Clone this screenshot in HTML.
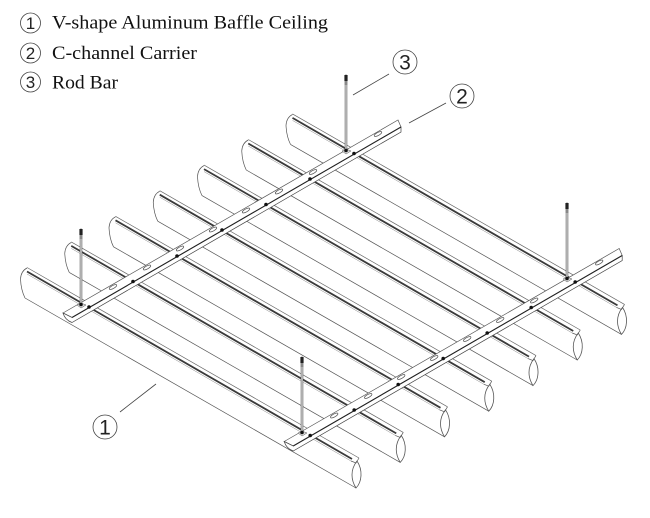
<!DOCTYPE html>
<html><head><meta charset="utf-8"><style>
html,body{margin:0;padding:0;background:#fff;width:650px;height:518px;overflow:hidden}
svg{display:block}
text{font-family:"Liberation Serif",serif;fill:#111}
.n{font-family:"Liberation Sans",sans-serif;fill:#222;font-weight:normal}
</style></head><body>
<svg width="650" height="518" viewBox="0 0 650 518" xmlns="http://www.w3.org/2000/svg">
<defs>
<g id="b" fill="none" stroke="#555">
<path d="M27 268 Q21 271 20.500 279 Q21 290 25 298" stroke-width=".7"/>
<path d="M25 298 L356 488" stroke-width=".7"/>
<path d="M357 461 C350 470 351 480 356 488 C362 482 363 470 357 461Z" stroke-width=".8" fill="#fff"/>
<path d="M27 267.500 L359 458" stroke-width=".7" stroke="#666"/>
<path d="M27 271.500 L352 459" stroke-width="1.800" stroke="#3a3a3a"/>
<path d="M27 274 L351 461" stroke-width=".5" stroke="#888"/>
<path d="M351 461 L356 463 L359 458" stroke-width=".7"/>
</g>
<g id="c">
<path d="M63 313 L398 120 L401 127 L72 317.500 Z" fill="#fff" stroke="#555" stroke-width=".7"/>
<path d="M72 317.500 L401 127 L401 132 L72 322.500 Q65 320 63 313 Z" fill="#fff" stroke="#444" stroke-width=".7"/>
<path d="M72 317.500 L401 127" stroke="#222" stroke-width="1.100" fill="none"/>
<g fill="#fff" stroke="#555" stroke-width=".7">
<ellipse cx="113" cy="287" rx="4.200" ry="1.500" transform="rotate(-30 113 287)"/>
<ellipse cx="147" cy="267.500" rx="4.200" ry="1.500" transform="rotate(-30 147 267.500)"/>
<ellipse cx="180" cy="248.500" rx="4.200" ry="1.500" transform="rotate(-30 180 248.500)"/>
<ellipse cx="213" cy="229.500" rx="4.200" ry="1.500" transform="rotate(-30 213 229.500)"/>
<ellipse cx="246" cy="210.500" rx="4.200" ry="1.500" transform="rotate(-30 246 210.500)"/>
<ellipse cx="279" cy="191.500" rx="4.200" ry="1.500" transform="rotate(-30 279 191.500)"/>
<ellipse cx="313" cy="172" rx="4.200" ry="1.500" transform="rotate(-30 313 172)"/>
<ellipse cx="378" cy="134" rx="4.200" ry="1.500" transform="rotate(-30 378 134)"/>
</g>
<g fill="#111">
<circle cx="89" cy="307" r="1.800"/>
<circle cx="133" cy="281.500" r="1.800"/>
<circle cx="177" cy="256" r="1.800"/>
<circle cx="222" cy="230" r="1.800"/>
<circle cx="266" cy="204.500" r="1.800"/>
<circle cx="310" cy="179" r="1.800"/>
<circle cx="354" cy="153.500" r="1.800"/>
</g>
</g>
<g id="r">
<path d="M-1 0 H1 V76 H-1Z" fill="#ccc" stroke="#555" stroke-width=".5"/>
<rect x="-1.600" y="0" width="3.200" height="6" fill="#222"/>
<rect x="-1.400" y="6" width="2.800" height="4" fill="#888"/>
<path d="M-4 76 L0 74 L5 76 L0 79Z" fill="#ddd" stroke="#555" stroke-width=".5"/>
<circle cx="0" cy="75.500" r="1.800" fill="#111"/>
</g>
</defs>

<use href="#b" transform="translate(265.500 -153.600)"/>
<use href="#b" transform="translate(221.250 -128)"/>
<use href="#b" transform="translate(177 -102.400)"/>
<use href="#b" transform="translate(132.750 -76.800)"/>
<use href="#b" transform="translate(88.500 -51.200)"/>
<use href="#b" transform="translate(44.250 -25.600)"/>
<use href="#b"/>

<use href="#c"/>
<use href="#c" transform="translate(221.200 128.500)"/>

<use href="#r" transform="translate(81 229)"/>
<use href="#r" transform="translate(346 75)"/>
<use href="#r" transform="translate(567 203)"/>
<use href="#r" transform="translate(302 357)"/>

<g fill="none" stroke="#444" stroke-width=".8">
<path d="M353 95 L389 74"/>
<path d="M409 123 L446 103"/>
<path d="M120 412 L156 384"/>
<circle cx="405" cy="62" r="12"/>
<circle cx="462" cy="96" r="12"/>
<circle cx="105" cy="427" r="12"/>
<circle cx="30.500" cy="23" r="10"/>
<circle cx="30.500" cy="53" r="10"/>
<circle cx="30.500" cy="82" r="10"/>
</g>
<text class="n" x="405" y="69.500" font-size="21" text-anchor="middle">3</text>
<text class="n" x="462" y="103.500" font-size="21" text-anchor="middle">2</text>
<text class="n" x="105" y="434.500" font-size="21" text-anchor="middle">1</text>
<text class="n" x="30.500" y="29" font-size="17" text-anchor="middle">1</text>
<text class="n" x="30.500" y="59" font-size="17" text-anchor="middle">2</text>
<text class="n" x="30.500" y="88" font-size="17" text-anchor="middle">3</text>
<text x="52" y="28.500" font-size="18.500" textLength="276" lengthAdjust="spacingAndGlyphs">V-shape Aluminum Baffle Ceiling</text>
<text x="52" y="59" font-size="18.500" textLength="145" lengthAdjust="spacingAndGlyphs">C-channel Carrier</text>
<text x="52" y="88.500" font-size="18.500" textLength="66" lengthAdjust="spacingAndGlyphs">Rod Bar</text>
</svg>
</body></html>
